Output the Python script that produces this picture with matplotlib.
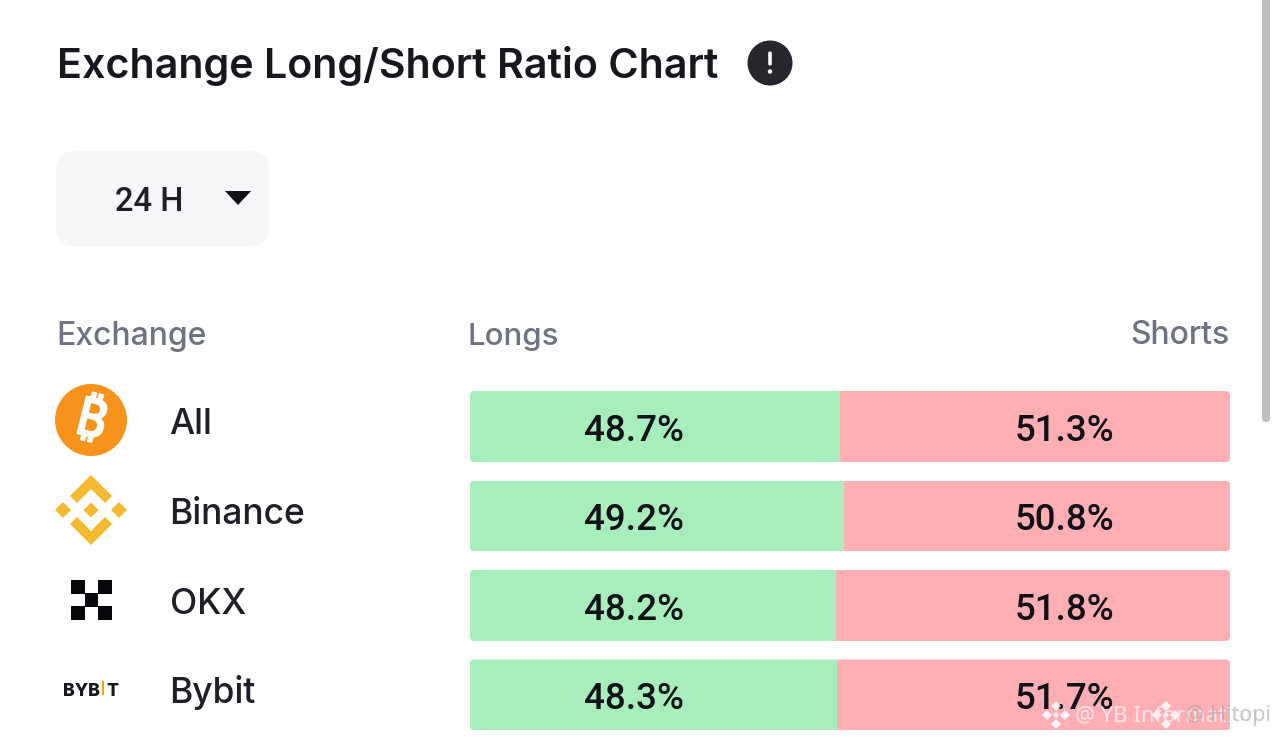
import matplotlib
matplotlib.use("Agg")
import matplotlib.pyplot as plt
import matplotlib.patheffects as pe
from matplotlib.patches import FancyBboxPatch, Circle, Polygon, Rectangle

exchanges = ["All", "Binance", "OKX", "Bybit"]
longs = [48.7, 49.2, 48.2, 48.3]
shorts = [51.3, 50.8, 51.8, 51.7]

FONT = "Inter"
INK = "#1e2026"
GREY = "#6f7280"
GREEN = "#a8edbc"
RED = "#ffafb3"

W, H = 1280, 742
fig = plt.figure(figsize=(W / 100, H / 100), dpi=100, facecolor="white")

# page layer in pixel coordinates
pg = fig.add_axes([0, 0, 1, 1])
pg.set_xlim(0, W)
pg.set_ylim(H, 0)
pg.axis("off")

pg.text(57, 66, "Exchange Long/Short Ratio Chart", family=FONT, fontsize=29.7,
        fontweight="semibold", color="#17181e", va="center", ha="left")
pg.add_patch(Circle((770, 63), 22.5, fc="#26272d", ec="none"))
pg.add_patch(FancyBboxPatch((768.2, 51.5), 3.6, 14, boxstyle="round,pad=0,rounding_size=1.5",
                            fc="white", ec="none"))
pg.add_patch(Circle((770, 71.5), 2.2, fc="white", ec="none"))

# selector
pg.add_patch(FancyBboxPatch((56, 151), 213, 95, boxstyle="round,pad=0,rounding_size=20",
                            fc="#f5f6f8", ec="none"))
pg.text(115, 202, "24 H", family="Roboto", fontsize=23.5, fontweight="medium", color=INK,
        va="center", ha="left")
pg.add_patch(Polygon([(225, 191), (251, 191), (238, 205)], closed=True, fc="#111217", ec="none"))

# headers
pg.text(56, 337, "Exchange", family=FONT, fontsize=23, fontweight="medium", color=GREY, va="center")
pg.text(467, 337, "Longs", family=FONT, fontsize=22.5, fontweight="medium", color=GREY, va="center")
pg.text(1229, 336, "Shorts", family=FONT, fontsize=23, fontweight="medium", color=GREY,
        va="center", ha="right")

# exchange names
name_y = [425, 514, 604, 693]
for name, y in zip(exchanges, name_y):
    pg.text(169.5, y, name, family=FONT, fontsize=25.5, fontweight="medium", color=INK, va="center", ha="left")

# bitcoin icon
pg.add_patch(Circle((91, 420), 36, fc="#f7931a", ec="none"))
pg.text(91, 421, "\u20bf", family=["DejaVu Sans", "Noto Sans", "Liberation Sans", "Roboto", "Open Sans", "Lato", "Inter"],
        fontsize=38, color="white", rotation=-14, ha="center", va="center",
        path_effects=[pe.withStroke(linewidth=1.6, foreground="white")])

# binance icon
GOLD = "#f3ba2f"
cx, cy = 91, 510
def diamond(x, y, r):
    pg.add_patch(Polygon([(x - r, y), (x, y - r), (x + r, y), (x, y + r)], closed=True, fc=GOLD, ec="none"))
diamond(cx, cy, 7.5)
diamond(cx - 28, cy, 8)
diamond(cx + 28, cy, 8)
pg.add_patch(Polygon([(cx, cy - 35), (cx + 21, cy - 14), (cx + 14, cy - 7), (cx, cy - 21),
                      (cx - 14, cy - 7), (cx - 21, cy - 14)], closed=True, fc=GOLD, ec="none"))
pg.add_patch(Polygon([(cx, cy + 35), (cx + 21, cy + 14), (cx + 14, cy + 7), (cx, cy + 21),
                      (cx - 14, cy + 7), (cx - 21, cy + 14)], closed=True, fc=GOLD, ec="none"))

# okx icon
for x, y in [(71, 580), (98, 580), (84.5, 593), (71, 606), (98, 606)]:
    pg.add_patch(Rectangle((x, y), 13.5, 13.5, fc="#08080c", ec="none"))

# bybit icon
pg.text(63.5, 692, "BYB", family=FONT, fontsize=12.8, fontweight="heavy", color="#17181e", va="center", ha="left")
pg.add_patch(Rectangle((101.8, 681), 2.4, 14, fc="#f7a600", ec="none"))
pg.text(106, 692, "T", family=FONT, fontsize=12.8, fontweight="heavy", color="#17181e", va="center", ha="left")

# bars
bar_left, bar_right, bar_top, bar_bottom = 470, 1230, 391, 730.5
ax = fig.add_axes([bar_left / W, 1 - bar_bottom / H, (bar_right - bar_left) / W, (bar_bottom - bar_top) / H])
ax.set_xlim(0, 100)
pos = list(range(len(exchanges)))
ax.set_ylim(len(exchanges) - 1 + 0.397, -0.397)
ax.axis("off")
ax.patch.set_alpha(0)
bar_h = 0.793
bl = ax.barh(pos, longs, height=bar_h, color=GREEN, edgecolor="none")
bs = ax.barh(pos, shorts, left=longs, height=bar_h, color=RED, edgecolor="none")
for i in pos:
    clip = FancyBboxPatch((0, i - bar_h / 2), 100, bar_h, transform=ax.transData,
                          boxstyle="round,pad=0,rounding_size=0.6",
                          fc="none", ec="none", mutation_aspect=0.0832)
    ax.add_patch(clip)
    bl[i].set_clip_path(clip)
    bs[i].set_clip_path(clip)
    ax.text(21.55, i + 0.055, f"{longs[i]}%", family="Roboto", fontsize=26.5, fontweight="medium",
            color="#111217", ha="center", va="center")
    ax.text(78.25, i + 0.055, f"{shorts[i]}%", family="Roboto", fontsize=26.5, fontweight="medium",
            color="#111217", ha="center", va="center")

# overlay layer: scrollbar and watermark
top = fig.add_axes([0, 0, 1, 1], zorder=5)
top.set_xlim(0, W)
top.set_ylim(H, 0)
top.axis("off")
top.patch.set_alpha(0)
top.add_patch(FancyBboxPatch((1262, -10), 8, 432, boxstyle="round,pad=0,rounding_size=4",
                             fc="#bfbfbf", ec="none"))
def wm_icon(x, y):
    for dx, dy, r in [(0, -9, 5), (-9, 0, 5), (9, 0, 5), (0, 9, 5), (0, 0, 3)]:
        top.add_patch(Polygon([(x + dx - r, y + dy), (x + dx, y + dy - r), (x + dx + r, y + dy),
                               (x + dx, y + dy + r)], closed=True, fc="white", ec="none", alpha=0.85))
wm_icon(1056, 715)
wm_icon(1166, 715)
top.text(1075, 716, "@ YB Information", family="Noto Sans", fontsize=16, color="#f4eeee", alpha=0.85, va="center")
top.text(1185, 716, "@ Hitopi", family="Noto Sans", fontsize=15.5, color="#a5a5a5", alpha=0.6, va="center")

fig.savefig("out.png", dpi=100, facecolor="white")
